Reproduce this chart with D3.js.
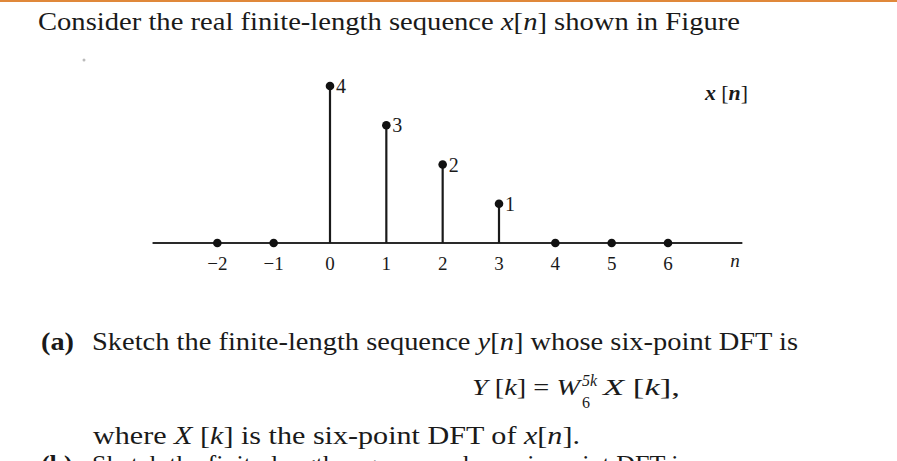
<!DOCTYPE html>
<html><head><meta charset="utf-8">
<script src="https://cdn.jsdelivr.net/npm/d3@7"></script>
<style>
html,body{margin:0;padding:0;background:#fff;}
svg{display:block;}
text{font-family:"Liberation Serif","Times New Roman",serif;fill:#1a1a1a;}
</style></head>
<body>
<svg id="c" width="897" height="461"></svg>
<script>
const nValues = [-2, -1, 0, 1, 2, 3, 4, 5, 6];
const xValues = [0, 0, 4, 3, 2, 1, 0, 0, 0];
const tickLabels = ["\u22122", "\u22121", "0", "1", "2", "3", "4", "5", "6"];
const valueLabels = ["", "", "4", "3", "2", "1", "", "", ""];
const axisExtent = [-3.15, 7.32];

const svg = d3.select("#c");
const x = d3.scaleLinear().domain([0, 6]).range([330, 668]);
const y = d3.scaleLinear().domain([0, 4]).range([243, 86]);

function rich(parent, parts) {
  parts.forEach(p => {
    const s = parent.append("tspan").text(p[0]);
    if (p[1] === "i") s.attr("font-style", "italic");
    if (p[1] === "b") s.attr("font-weight", "bold");
  });
  return parent;
}

// top orange rule
svg.append("rect").attr("x", 0).attr("y", 0).attr("width", 897).attr("height", 2).attr("fill", "#e0883a");

// title
rich(svg.append("text").attr("x", 38).attr("y", 30).attr("font-size", 26)
  .attr("textLength", 702).attr("lengthAdjust", "spacingAndGlyphs"),
  [["Consider the real finite-length sequence "], ["x", "i"], ["["], ["n", "i"], ["] shown in Figure"]]);

// faint speck
svg.append("circle").attr("cx", 84).attr("cy", 60).attr("r", 1.5).attr("fill", "#bbb");

const g = svg.append("g");
g.append("line").attr("x1", x(axisExtent[0])).attr("x2", x(axisExtent[1]))
  .attr("y1", y(0)).attr("y2", y(0)).attr("stroke", "#2a2a2a").attr("stroke-width", 2);

const data = nValues.map((n, i) => ({n, v: xValues[i], tl: tickLabels[i], vl: valueLabels[i]}));

g.selectAll("line.stem").data(data.filter(d => d.v !== 0)).enter().append("line")
  .attr("class", "stem").attr("x1", d => x(d.n)).attr("x2", d => x(d.n))
  .attr("y1", y(0)).attr("y2", d => y(d.v)).attr("stroke", "#1a1a1a").attr("stroke-width", 2.2);

g.selectAll("circle.pt").data(data).enter().append("circle")
  .attr("class", "pt").attr("cx", d => x(d.n)).attr("cy", d => y(d.v)).attr("r", 4.3).attr("fill", "#111");

g.selectAll("text.vl").data(data.filter(d => d.vl)).enter().append("text")
  .attr("class", "vl").attr("x", d => x(d.n) + 6).attr("y", d => y(d.v) + 7)
  .attr("font-size", 20).text(d => d.vl);

g.selectAll("text.tl").data(data).enter().append("text")
  .attr("class", "tl").attr("x", d => x(d.n)).attr("y", y(0) + 27)
  .attr("text-anchor", "middle").attr("font-size", 19).text(d => d.tl);

svg.append("text").attr("x", 735).attr("y", 267).attr("text-anchor", "middle")
  .attr("font-size", 19).attr("font-style", "italic").text("n");
const xl = svg.append("text").attr("x", 705).attr("y", 100).attr("font-size", 21)
  .attr("textLength", 43).attr("lengthAdjust", "spacingAndGlyphs");
xl.append("tspan").attr("font-style", "italic").attr("font-weight", "bold").text("x");
xl.append("tspan").text(" [");
xl.append("tspan").attr("font-style", "italic").attr("font-weight", "bold").text("n");
xl.append("tspan").text("]");

// part (a)
svg.append("text").attr("x", 41).attr("y", 350).attr("font-size", 26).attr("font-weight", "bold")
  .attr("textLength", 33).attr("lengthAdjust", "spacingAndGlyphs").text("(a)");
rich(svg.append("text").attr("x", 92).attr("y", 350).attr("font-size", 26)
  .attr("textLength", 706).attr("lengthAdjust", "spacingAndGlyphs"),
  [["Sketch the finite-length sequence "], ["y", "i"], ["["], ["n", "i"], ["] whose six-point DFT is"]]);

// equation
const e = svg.append("g").attr("font-size", 23);
rich(e.append("text").attr("x", 472).attr("y", 395)
  .attr("textLength", 108).attr("lengthAdjust", "spacingAndGlyphs"),
  [["Y", "i"], [" ["], ["k", "i"], ["] = "], ["W", "i"]]);
e.append("text").attr("x", 582).attr("y", 386).attr("font-size", 16).attr("font-style", "italic").text("5k");
e.append("text").attr("x", 582).attr("y", 408).attr("font-size", 16).text("6");
rich(e.append("text").attr("x", 603).attr("y", 395)
  .attr("textLength", 77).attr("lengthAdjust", "spacingAndGlyphs"),
  [["X", "i"], [" ["], ["k", "i"], ["],"]]);

// where line
rich(svg.append("text").attr("x", 93).attr("y", 444).attr("font-size", 26)
  .attr("textLength", 487).attr("lengthAdjust", "spacingAndGlyphs"),
  [["where "], ["X", "i"], [" ["], ["k", "i"], ["] is the six-point DFT of "], ["x", "i"], ["["], ["n", "i"], ["]."]]);

// cut-off next line (only its top shows, as in the reference)
const b = svg.append("text").attr("x", 41).attr("y", 473).attr("font-size", 26);
b.append("tspan").attr("font-weight", "bold").text("(b)");
b.append("tspan").attr("x", 92).text("Sketch the finite-length sequence whose six-point DFT is");
</script>
</body></html>
